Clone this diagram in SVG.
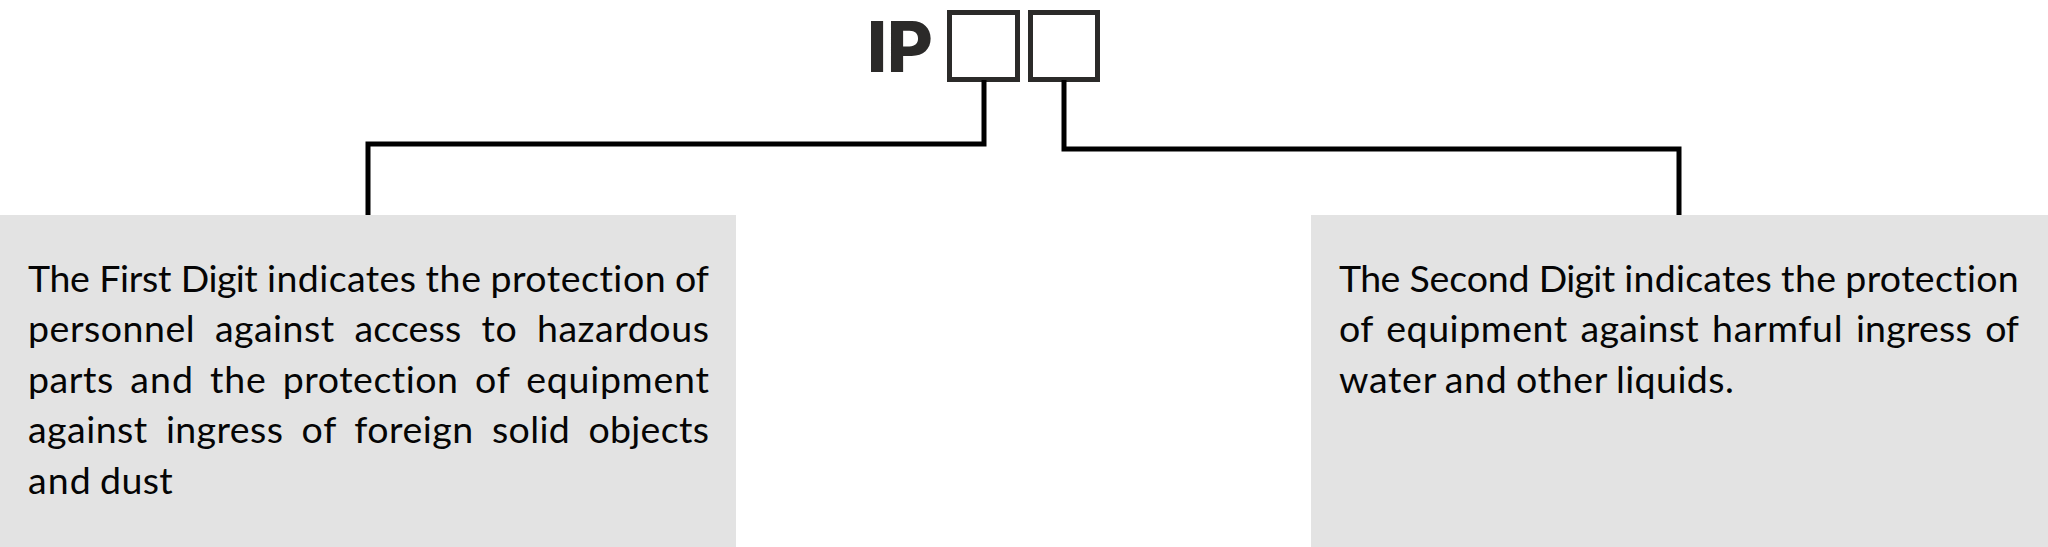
<svg xmlns="http://www.w3.org/2000/svg" width="2048" height="547" viewBox="0 0 2048 547">
<style>
.bg{fill:#ffffff}
.panel{fill:#e3e3e3}
.digit{fill:none;stroke:#2b2a29;stroke-width:5}
.title{font-family:Inter,"Liberation Sans",sans-serif;font-weight:800;font-size:70px;fill:#2b2a29}
.body{font-family:Lato,"Open Sans","Liberation Sans",sans-serif;font-size:37.5px;fill:#050505;font-variant-ligatures:none;font-feature-settings:"liga" 0,"clig" 0}
.conn{fill:none;stroke:#000000;stroke-width:5;stroke-linejoin:miter;stroke-linecap:butt}
</style>
<rect class="bg" x="0" y="0" width="2048" height="547"/>

<g id="ip-code">
  <text class="title" x="867" y="72" textLength="66" lengthAdjust="spacingAndGlyphs">IP</text>
  <rect id="digit-1" class="digit" x="949.5" y="12.5" width="68" height="67"/>
  <rect id="digit-2" class="digit" x="1030.5" y="12.5" width="67" height="67"/>
</g>

<g id="connectors">
  <polyline class="conn" points="984,80 984,144 368,144 368,216"/>
  <polyline class="conn" points="1064,80 1064,149 1679,149 1679,216"/>
</g>

<g id="first-digit">
  <rect class="panel" x="0" y="215" width="736" height="332"/>
  <text class="body" lengthAdjust="spacingAndGlyphs">
    <tspan x="28" y="292" textLength="61.9">The</tspan>
    <tspan x="99.2" y="292" textLength="72.3">First</tspan>
    <tspan x="180.8" y="292" textLength="77">Digit</tspan>
    <tspan x="267.1" y="292" textLength="149">indicates</tspan>
    <tspan x="425.4" y="292" textLength="55.7">the</tspan>
    <tspan x="490.4" y="292" textLength="175.2">protection</tspan>
    <tspan x="674.9" y="292" textLength="34.1">of</tspan>
  </text>
  <text class="body" lengthAdjust="spacingAndGlyphs">
    <tspan x="28" y="342" textLength="166.7">personnel</tspan>
    <tspan x="214.9" y="342" textLength="119.3">against</tspan>
    <tspan x="354.4" y="342" textLength="106.8">access</tspan>
    <tspan x="481.4" y="342" textLength="35.3">to</tspan>
    <tspan x="536.9" y="342" textLength="172">hazardous</tspan>
  </text>
  <text class="body" lengthAdjust="spacingAndGlyphs">
    <tspan x="28" y="393" textLength="85.2">parts</tspan>
    <tspan x="130.3" y="393" textLength="62.7">and</tspan>
    <tspan x="210" y="393" textLength="55.7">the</tspan>
    <tspan x="282.8" y="393" textLength="175.2">protection</tspan>
    <tspan x="475.1" y="393" textLength="34.1">of</tspan>
    <tspan x="526.2" y="393" textLength="182.8">equipment</tspan>
  </text>
  <text class="body" lengthAdjust="spacingAndGlyphs">
    <tspan x="28" y="443" textLength="119.3">against</tspan>
    <tspan x="165.9" y="443" textLength="117">ingress</tspan>
    <tspan x="301.5" y="443" textLength="34.1">of</tspan>
    <tspan x="354.2" y="443" textLength="119.1">foreign</tspan>
    <tspan x="491.9" y="443" textLength="77.9">solid</tspan>
    <tspan x="588.4" y="443" textLength="120.5">objects</tspan>
  </text>
  <text class="body" lengthAdjust="spacingAndGlyphs">
    <tspan x="28" y="494" textLength="62.7">and</tspan>
    <tspan x="100" y="494" textLength="72.8">dust</tspan>
  </text>
</g>

<g id="second-digit">
  <rect class="panel" x="1311" y="215" width="737" height="332"/>
  <text class="body" lengthAdjust="spacingAndGlyphs">
    <tspan x="1339" y="292" textLength="61.3">The</tspan>
    <tspan x="1409.5" y="292" textLength="120.1">Second</tspan>
    <tspan x="1538.8" y="292" textLength="76.3">Digit</tspan>
    <tspan x="1624.3" y="292" textLength="147.5">indicates</tspan>
    <tspan x="1781" y="292" textLength="55.1">the</tspan>
    <tspan x="1845.3" y="292" textLength="173.5">protection</tspan>
  </text>
  <text class="body" lengthAdjust="spacingAndGlyphs">
    <tspan x="1339" y="342" textLength="33.8">of</tspan>
    <tspan x="1386.2" y="342" textLength="181">equipment</tspan>
    <tspan x="1580.6" y="342" textLength="118.1">against</tspan>
    <tspan x="1712.1" y="342" textLength="130.4">harmful</tspan>
    <tspan x="1855.9" y="342" textLength="115.9">ingress</tspan>
    <tspan x="1985.2" y="342" textLength="33.8">of</tspan>
  </text>
  <text class="body" lengthAdjust="spacingAndGlyphs">
    <tspan x="1339" y="393" textLength="96.5">water</tspan>
    <tspan x="1444.7" y="393" textLength="62.1">and</tspan>
    <tspan x="1516" y="393" textLength="90.7">other</tspan>
    <tspan x="1615.9" y="393" textLength="117.9">liquids.</tspan>
  </text>
</g>
</svg>
